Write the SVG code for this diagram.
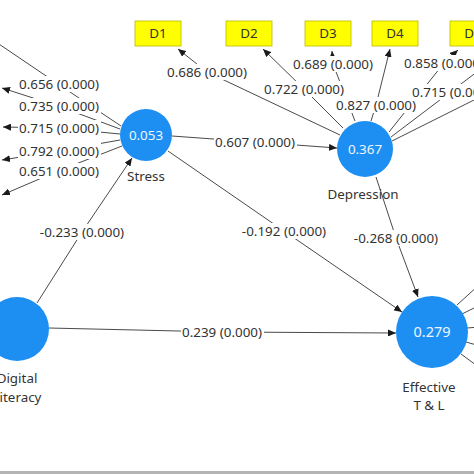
<svg xmlns="http://www.w3.org/2000/svg" width="474" height="474" viewBox="0 0 474 474">
<style>
  text { font-family: "Noto Sans", "Liberation Sans", sans-serif; font-size: 13.4px; fill: #333; }
  .cv { fill: #eef5ff; text-anchor: middle; }
  .nl { text-anchor: middle; fill: #333; }
  .lb { text-anchor: middle; }
  .lbs { text-anchor: start; }
  .bg { fill: #ffffff; }
  .ln { fill: none; stroke: #4a4a4a; stroke-width: 1; }
  .ar { marker-end: url(#ah); }
  .lv { fill: #1e8ff2; }
  .ind { fill: #ffff00; stroke: #b9b900; stroke-width: 0.8; }
  .it { text-anchor: middle; fill: #333; }
</style>
<defs>
  <marker id="ah" markerUnits="userSpaceOnUse" markerWidth="8" markerHeight="7" refX="8" refY="3.5" orient="auto">
    <path d="M0,0 L8,3.5 L0,7 z" fill="#1a1a1a"/>
  </marker>
</defs>
<rect x="0" y="0" width="474" height="474" fill="#ffffff"/>

<g id="connectors">
  <!-- Stress outer model -->
  <path class="ln" d="M121,126 L58,84 L-10,38"/>
  <path class="ln ar" d="M120,129 L58,106 L2,88"/>
  <path class="ln ar" d="M120,134 L58,128 L3,127"/>
  <path class="ln ar" d="M120,140 L58,151 L2,160"/>
  <path class="ln ar" d="M122,146 L58,171 L2,195"/>
  <!-- Depression outer model -->
  <path class="ln ar" d="M340,135 L207,72 L178,49"/>
  <path class="ln ar" d="M343,128 L304,89 L263,49"/>
  <path class="ln ar" d="M355,121 L333,64 L332,51"/>
  <path class="ln ar" d="M371,121 L376,105 L390,49"/>
  <path class="ln ar" d="M389,132 L444,63 L458,50"/>
  <path class="ln" d="M391,137 L490,62"/>
  <path class="ln" d="M392,141 L490,92"/>
  <!-- Effective outer model -->
  <path class="ln" d="M457,305 L480,284"/>
  <path class="ln" d="M462,314 L480,305"/>
  <path class="ln" d="M467,328 L480,327"/>
  <path class="ln" d="M466,342 L480,346"/>
  <path class="ln" d="M461,354 L480,368"/>
  <!-- Inner model -->
  <path class="ln ar" d="M172,136 L255,142 L337,148"/>
  <path class="ln ar" d="M37,303 L82,232 L132,158"/>
  <path class="ln ar" d="M168,151 L284,231 L402,312"/>
  <path class="ln ar" d="M376,177 L396,238 L418,297"/>
  <path class="ln ar" d="M49,328 L222,332 L396,333"/>

  <!-- labels -->
  <rect class="bg" x="18" y="76" width="83" height="16"/><text class="lbs" x="19" y="88.5">0.656 (0.000)</text>
  <rect class="bg" x="18" y="98" width="83" height="16"/><text class="lbs" x="19" y="110.5">0.735 (0.000)</text>
  <rect class="bg" x="18" y="120" width="83" height="16"/><text class="lbs" x="19" y="132.5">0.715 (0.000)</text>
  <rect class="bg" x="18" y="143" width="83" height="16"/><text class="lbs" x="19" y="155.5">0.792 (0.000)</text>
  <rect class="bg" x="18" y="163" width="83" height="16"/><text class="lbs" x="19" y="175.5">0.651 (0.000)</text>

  <rect class="bg" x="166" y="64" width="83" height="16"/><text class="lb" x="207" y="76.5">0.686 (0.000)</text>
  <rect class="bg" x="263" y="81" width="83" height="16"/><text class="lb" x="304" y="93.5">0.722 (0.000)</text>
  <rect class="bg" x="292" y="56" width="83" height="16"/><text class="lb" x="333" y="68.5">0.689 (0.000)</text>
  <rect class="bg" x="335" y="97" width="83" height="16"/><text class="lb" x="376" y="109.5">0.827 (0.000)</text>
  <rect class="bg" x="403" y="55" width="83" height="16"/><text class="lb" x="444" y="67.5">0.858 (0.000)</text>
  <rect class="bg" x="411" y="84" width="83" height="16"/><text class="lb" x="452" y="96.5">0.715 (0.000)</text>

  <rect class="bg" x="214" y="134" width="83" height="16"/><text class="lb" x="255" y="146.5">0.607 (0.000)</text>
  <rect class="bg" x="39" y="224" width="87" height="16"/><text class="lb" x="82" y="236.5">-0.233 (0.000)</text>
  <rect class="bg" x="241" y="223" width="87" height="16"/><text class="lb" x="284" y="235.5">-0.192 (0.000)</text>
  <rect class="bg" x="353" y="230" width="87" height="16"/><text class="lb" x="396" y="242.5">-0.268 (0.000)</text>
  <rect class="bg" x="181" y="324" width="83" height="16"/><text class="lb" x="222" y="336.5">0.239 (0.000)</text>
</g>

<g id="node-stress">
  <circle class="lv" cx="146" cy="135" r="26"/>
  <text class="cv" x="146" y="139.5">0.053</text>
  <text class="nl" x="146" y="181">Stress</text>
</g>
<g id="node-depression">
  <circle class="lv" cx="365" cy="149" r="28"/>
  <text class="cv" x="365" y="153.5">0.367</text>
  <text class="nl" x="363" y="199">Depression</text>
</g>
<g id="node-digital-literacy">
  <circle class="lv" cx="17" cy="329" r="32"/>
  <text class="nl" x="17" y="383">Digital</text>
  <text class="nl" x="17" y="402">Literacy</text>
</g>
<g id="node-effective">
  <circle class="lv" cx="432" cy="332" r="36"/>
  <text class="cv" x="432" y="337" style="font-size:14.5px">0.279</text>
  <text class="nl" x="429" y="392">Effective</text>
  <text class="nl" x="429" y="410">T &amp; L</text>
</g>
<g id="node-d1"><rect class="ind" x="135" y="21" width="46" height="25"/><text class="it" x="158" y="38">D1</text></g>
<g id="node-d2"><rect class="ind" x="226" y="21" width="46" height="25"/><text class="it" x="249" y="38">D2</text></g>
<g id="node-d3"><rect class="ind" x="305" y="21" width="46" height="25"/><text class="it" x="328" y="38">D3</text></g>
<g id="node-d4"><rect class="ind" x="372" y="21" width="46" height="25"/><text class="it" x="395" y="38">D4</text></g>
<g id="node-d5"><rect class="ind" x="450" y="21" width="46" height="25"/><text class="it" x="473" y="38">D5</text></g>

<rect x="0" y="471" width="474" height="3" fill="#b4b4b4"/>
</svg>
